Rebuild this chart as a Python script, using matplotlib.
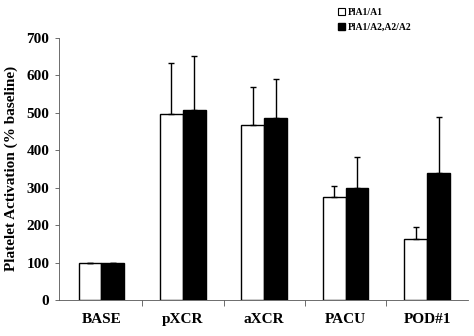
import matplotlib.pyplot as plt
import matplotlib.patches as mpatches
import numpy as np

plt.rcParams["font.family"] = ["Liberation Serif", "DejaVu Serif"]
plt.rcParams["font.weight"] = "bold"

categories = ["BASE", "pXCR", "aXCR", "PACU", "POD#1"]
a1_mean = [100, 496, 467, 274, 164]
a1_err = [0, 135, 102, 29, 30]
a2_mean = [100, 508, 486, 299, 340]
a2_err = [0, 143, 104, 82, 147]
series_labels = ["PlA1/A1", "PlA1/A2,A2/A2"]

x = np.arange(len(categories))
w = 0.28

fig = plt.figure(figsize=(4.74, 3.36), dpi=100)
ax = fig.add_axes([0.1245, 0.107, 0.8625, 0.781])

ax.bar(x - w / 2, a1_mean, w, color="white", edgecolor="black", linewidth=1.0)
ax.bar(x + w / 2, a2_mean, w, color="black", edgecolor="black", linewidth=1.0)

# upward-only error bars
ax.errorbar(x - w / 2, a1_mean, yerr=[np.zeros(len(x)), a1_err], fmt="none",
            ecolor="black", elinewidth=1.0, capsize=2, capthick=1.0)
ax.errorbar(x + w / 2, a2_mean, yerr=[np.zeros(len(x)), a2_err], fmt="none",
            ecolor="black", elinewidth=1.0, capsize=2, capthick=1.0)

ax.set_xlim(-0.52, 4.5)
ax.set_ylim(0, 700)
ax.set_yticks(range(0, 701, 100))
ax.set_xticks(x)
ax.set_xticklabels(categories, fontsize=11, fontweight="bold")
ax.set_xticks(x[:-1] + 0.5, minor=True)
ax.tick_params(axis="x", which="major", length=0, pad=9)
ax.tick_params(axis="x", which="minor", length=4, width=0.6, color="#555555")
ax.tick_params(axis="y", length=3, width=0.6, color="#555555", labelsize=11, pad=4)
for lab in ax.get_yticklabels():
    lab.set_fontweight("bold")

ax.spines[["top", "right"]].set_visible(False)
ax.spines["left"].set_color("#555555")
ax.spines["bottom"].set_color("#555555")
ax.spines["left"].set_linewidth(0.6)
ax.spines["bottom"].set_linewidth(0.6)

ax.set_ylabel("Platelet Activation (% baseline)", fontsize=11, fontweight="bold", labelpad=6)

handles = [
    mpatches.Patch(facecolor="white", edgecolor="black", linewidth=0.8, label=series_labels[0]),
    mpatches.Patch(facecolor="black", edgecolor="black", label=series_labels[1]),
]
fig.legend(handles=handles, loc="upper left", bbox_to_anchor=(0.695, 1.003),
           frameon=False, handlelength=0.7, handleheight=0.7,
           handletextpad=0.3, labelspacing=0.6, prop={"weight": "bold", "size": 7})

fig.savefig("out.png", dpi=100)
